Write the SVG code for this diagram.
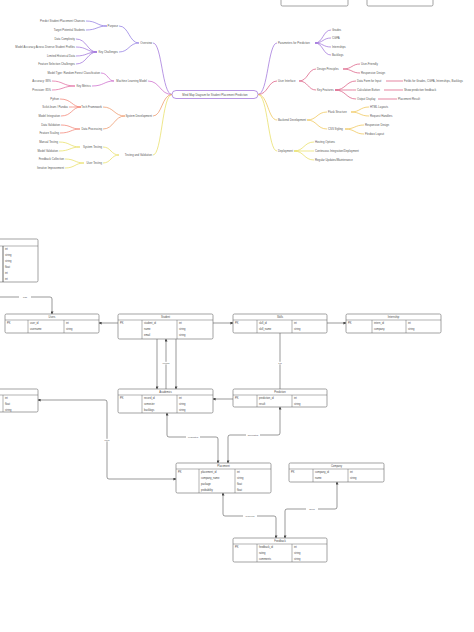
<svg xmlns="http://www.w3.org/2000/svg" width="474" height="632" viewBox="0 0 474 632">
<style>
.mm{font-family:"Liberation Sans",Arial,sans-serif;font-size:2.8px;fill:#555}
.e{text-anchor:end}
.c{fill:none;stroke-width:0.7}
.pu{stroke:#9a6ad8}.bl{stroke:#8a72e0}.mg{stroke:#c860c8}.pk{stroke:#e0609a}.or{stroke:#ec9060}.rd{stroke:#f07a6a}.ye{stroke:#e6dc5a}.yo{stroke:#eec24a}.re{stroke:#d8507a}
.bx{fill:#fff;stroke:#666;stroke-width:0.6}
.ln{stroke:#666;stroke-width:0.5}
.t{font-family:"Liberation Sans",Arial,sans-serif;font-size:2.6px;fill:#444}
.h{text-anchor:middle}
.cn{fill:none;stroke:#555;stroke-width:0.6}
.lb{font-family:"Liberation Sans",Arial,sans-serif;font-size:2.4px;fill:#555;text-anchor:middle}
.lbg{fill:#fff}
</style>
<defs>
<marker id="ar" markerUnits="userSpaceOnUse" markerWidth="3" markerHeight="3" refX="2.6" refY="1.5" orient="auto-start-reverse"><path d="M0,0 L3,1.5 L0,3 z" fill="#444"/></marker>
</defs>
<rect width="474" height="632" fill="#fff"/>

<!-- top partial boxes -->
<g id="top-box-1"><rect class="bx" x="281" y="-5" width="67" height="11" rx="1.5"/></g>
<g id="top-box-2"><rect class="bx" x="367" y="-5" width="66" height="11" rx="1.5"/></g>

<!-- MIND MAP connectors -->
<g id="mindmap-links">
<path class="c pu" d="M172,94.5 C162,94.5 162,43 153,43"/>
<path class="c mg" d="M172,94.5 C160,94.5 160,81 148,81"/>
<path class="c or" d="M172,94.5 C162,94.5 162,116 153,116"/>
<path class="c ye" d="M172,94.5 C162,94.5 162,155 153,155"/>
<path class="c bl" d="M139,43 C129,43 129,26 119,26"/>
<path class="c bl" d="M139,43 C129,43 129,52 119,52"/>
<path class="c bl" d="M107,26 C97,26 97,21 86,21"/>
<path class="c bl" d="M107,26 C97,26 97,30 86,30"/>
<path class="c pu" d="M97,52 C87,52 87,39 76,39"/>
<path class="c pu" d="M97,52 C87,52 87,47 76,47"/>
<path class="c pu" d="M97,52 C87,52 87,56 76,56"/>
<path class="c pu" d="M97,52 C87,52 87,64 76,64"/>
<path class="c mg" d="M114,81 C108,81 108,73 101,73"/>
<path class="c mg" d="M114,81 C104,81 104,86 92,86"/>
<path class="c pk" d="M75,86 C63,86 63,81 52,81"/>
<path class="c pk" d="M75,86 C63,86 63,90 52,90"/>
<path class="c or" d="M125,116 C114,116 114,107 103,107"/>
<path class="c or" d="M125,116 C114,116 114,129 103,129"/>
<path class="c rd" d="M81,107 C72,107 72,99 60,99"/>
<path class="c rd" d="M81,107 C75,107 75,107 69,107"/>
<path class="c rd" d="M81,107 C72,107 72,116 61,116"/>
<path class="c rd" d="M80,129 C71,129 71,125 61,125"/>
<path class="c rd" d="M80,129 C71,129 71,133 60,133"/>
<path class="c ye" d="M119,155 C111,155 111,147 103,147"/>
<path class="c ye" d="M119,155 C111,155 111,163 103,163"/>
<path class="c ye" d="M80,147 C70,147 70,142 59,142"/>
<path class="c ye" d="M80,147 C70,147 70,151 59,151"/>
<path class="c ye" d="M84,163 C75,163 75,159 65,159"/>
<path class="c ye" d="M84,163 C75,163 75,168 65,168"/>

<path class="c pu" d="M258,94.5 C268,94.5 268,43 277,43"/>
<path class="c re" d="M258,94.5 C268,94.5 268,81 277,81"/>
<path class="c yo" d="M258,94.5 C268,94.5 268,120 277,120"/>
<path class="c ye" d="M258,94.5 C268,94.5 268,151 277,151"/>
<path class="c pu" d="M315,43 C323,43 323,30 331,30"/>
<path class="c pu" d="M315,43 C323,43 323,38 331,38"/>
<path class="c pu" d="M315,43 C323,43 323,47 331,47"/>
<path class="c pu" d="M315,43 C323,43 323,55 331,55"/>
<path class="c re" d="M299,81 C308,81 308,69 316,69"/>
<path class="c re" d="M299,81 C308,81 308,90 316,90"/>
<path class="c re" d="M343,69 C352,69 352,64 360,64"/>
<path class="c re" d="M343,69 C352,69 352,73 360,73"/>
<path class="c re" d="M335,90 C346,90 346,81 356,81"/>
<path class="c re" d="M335,90 C346,90 346,90 356,90"/>
<path class="c re" d="M335,90 C346,90 346,99 356,99"/>
<path class="c re" d="M386,81 H403"/>
<path class="c re" d="M384,90 H403"/>
<path class="c re" d="M378,99 H397"/>
<path class="c yo" d="M307,120 C317,120 317,112 327,112"/>
<path class="c yo" d="M307,120 C317,120 317,129 327,129"/>
<path class="c yo" d="M351,112 C360,112 360,107 369,107"/>
<path class="c yo" d="M351,112 C360,112 360,116 369,116"/>
<path class="c yo" d="M345,129 C355,129 355,125 364,125"/>
<path class="c yo" d="M345,129 C355,129 355,134 364,134"/>
<path class="c ye" d="M294,151 C304,151 304,142 314,142"/>
<path class="c ye" d="M294,151 C304,151 304,151 314,151"/>
<path class="c ye" d="M294,151 C304,151 304,160 314,160"/>
</g>

<!-- MIND MAP nodes -->
<g id="mm-root"><rect x="172" y="90.5" width="86" height="8" rx="4" fill="#fff" stroke="#9a6ad8" stroke-width="0.7"/><text class="mm" x="215" y="95.5" text-anchor="middle">Mind Map Diagram for Student Placement Prediction</text></g>
<g id="mm-overview"><text class="mm e" x="152" y="44">Overview</text></g>
<g id="mm-purpose"><text class="mm e" x="118" y="27">Purpose</text></g>
<g id="mm-purpose-1"><text class="mm e" x="85" y="22">Predict Student Placement Chances</text></g>
<g id="mm-purpose-2"><text class="mm e" x="85" y="31">Target Potential Students</text></g>
<g id="mm-challenges"><text class="mm e" x="118" y="53">Key Challenges</text></g>
<g id="mm-ch-1"><text class="mm e" x="75" y="40">Data Complexity</text></g>
<g id="mm-ch-2"><text class="mm e" x="75" y="48">Model Accuracy Across Diverse Student Profiles</text></g>
<g id="mm-ch-3"><text class="mm e" x="75" y="57">Limited Historical Data</text></g>
<g id="mm-ch-4"><text class="mm e" x="75" y="65">Feature Selection Challenges</text></g>
<g id="mm-ml"><text class="mm e" x="147" y="82">Machine Learning Model</text></g>
<g id="mm-ml-1"><text class="mm e" x="100" y="74">Model Type: Random Forest Classification</text></g>
<g id="mm-ml-2"><text class="mm e" x="91" y="87">Key Metrics</text></g>
<g id="mm-ml-3"><text class="mm e" x="51" y="82">Accuracy: 88%</text></g>
<g id="mm-ml-4"><text class="mm e" x="51" y="91">Precision: 85%</text></g>
<g id="mm-sys"><text class="mm e" x="152" y="117">System Development</text></g>
<g id="mm-tech"><text class="mm e" x="102" y="108">Tech Framework</text></g>
<g id="mm-tech-1"><text class="mm e" x="59" y="100">Python</text></g>
<g id="mm-tech-2"><text class="mm e" x="68" y="108">Scikit-learn / Pandas</text></g>
<g id="mm-tech-3"><text class="mm e" x="60" y="117">Model Integration</text></g>
<g id="mm-data"><text class="mm e" x="102" y="130">Data Processing</text></g>
<g id="mm-data-1"><text class="mm e" x="60" y="126">Data Validation</text></g>
<g id="mm-data-2"><text class="mm e" x="59" y="134">Feature Scaling</text></g>
<g id="mm-test"><text class="mm e" x="152" y="156">Testing and Validation</text></g>
<g id="mm-systest"><text class="mm e" x="102" y="148">System Testing</text></g>
<g id="mm-systest-1"><text class="mm e" x="58" y="143">Manual Testing</text></g>
<g id="mm-systest-2"><text class="mm e" x="58" y="152">Model Validation</text></g>
<g id="mm-usertest"><text class="mm e" x="102" y="164">User Testing</text></g>
<g id="mm-usertest-1"><text class="mm e" x="64" y="160">Feedback Collection</text></g>
<g id="mm-usertest-2"><text class="mm e" x="64" y="169">Iterative Improvement</text></g>

<g id="mm-params"><text class="mm" x="278" y="44">Parameters for Prediction</text></g>
<g id="mm-p1"><text class="mm" x="332" y="31">Grades</text></g>
<g id="mm-p2"><text class="mm" x="332" y="39">CGPA</text></g>
<g id="mm-p3"><text class="mm" x="332" y="48">Internships</text></g>
<g id="mm-p4"><text class="mm" x="332" y="56">Backlogs</text></g>
<g id="mm-ui"><text class="mm" x="278" y="82">User Interface</text></g>
<g id="mm-design"><text class="mm" x="317" y="70">Design Principles</text></g>
<g id="mm-d1"><text class="mm" x="361" y="65">User-Friendly</text></g>
<g id="mm-d2"><text class="mm" x="361" y="74">Responsive Design</text></g>
<g id="mm-features"><text class="mm" x="317" y="91">Key Features</text></g>
<g id="mm-f1"><text class="mm" x="357" y="82">Data Form for Input</text></g>
<g id="mm-f2"><text class="mm" x="357" y="91">Calculation Button</text></g>
<g id="mm-f3"><text class="mm" x="357" y="100">Output Display</text></g>
<g id="mm-f1a"><text class="mm" x="404" y="82">Fields for Grades, CGPA, Internships, Backlogs</text></g>
<g id="mm-f2a"><text class="mm" x="404" y="91">Show prediction feedback</text></g>
<g id="mm-f3a"><text class="mm" x="398" y="100">Placement Result</text></g>
<g id="mm-backend"><text class="mm" x="278" y="121">Backend Development</text></g>
<g id="mm-flask"><text class="mm" x="328" y="113">Flask Structure</text></g>
<g id="mm-fl1"><text class="mm" x="370" y="108">HTML Layouts</text></g>
<g id="mm-fl2"><text class="mm" x="370" y="117">Request Handlers</text></g>
<g id="mm-css"><text class="mm" x="328" y="130">CSS Styling</text></g>
<g id="mm-css1"><text class="mm" x="365" y="126">Responsive Design</text></g>
<g id="mm-css2"><text class="mm" x="365" y="135">Flexbox Layout</text></g>
<g id="mm-deploy"><text class="mm" x="278" y="152">Deployment</text></g>
<g id="mm-dp1"><text class="mm" x="315" y="143">Hosting Options</text></g>
<g id="mm-dp2"><text class="mm" x="315" y="152">Continuous Integration/Deployment</text></g>
<g id="mm-dp3"><text class="mm" x="315" y="161">Regular Updates/Maintenance</text></g>

<!-- ER connectors -->
<g id="er-links">
<path class="cn" d="M0,297 H50 Q52,297 52,299 V314" marker-end="url(#ar)"/>
<path class="cn" d="M118,323 H99" marker-end="url(#ar)"/>
<path class="cn" d="M213,323 H233" marker-end="url(#ar)"/>
<path class="cn" d="M327,323 H346" marker-end="url(#ar)"/>
<path class="cn" d="M157,339 V389" marker-end="url(#ar)"/>
<path class="cn" d="M176,339 V389" marker-end="url(#ar)"/>
<path class="cn" d="M166,389 V339" marker-end="url(#ar)"/>
<path class="cn" d="M233,399 H213" marker-end="url(#ar)"/>
<path class="cn" d="M258,399 H278 Q280,399 280,397 V326 Q280,324 282,324 H292"/>
<path class="cn" d="M167,413 V435 Q167,437 169,437 H216 Q218,437 218,439 V463" marker-start="url(#ar)" marker-end="url(#ar)"/>
<path class="cn" d="M280,407 V433 Q280,435 278,435 H230 Q228,435 228,437 V463" marker-start="url(#ar)" marker-end="url(#ar)"/>
<path class="cn" d="M176,479 H109 Q107,479 107,477 V402 Q107,400 105,400 H38" marker-start="url(#ar)" marker-end="url(#ar)"/>
<path class="cn" d="M223,493 V514 Q223,516 225,516 H274 Q276,516 276,518 V538" marker-start="url(#ar)" marker-end="url(#ar)"/>
<path class="cn" d="M337,482 V507 Q337,509 335,509 H287 Q285,509 285,511 V538" marker-start="url(#ar)" marker-end="url(#ar)"/>
<rect class="lbg" x="19" y="295.8" width="12" height="2.6"/><text class="lb" x="25" y="297.9">has</text>
<rect class="lbg" x="160" y="361.8" width="12" height="2.6"/><text class="lb" x="166" y="363.9">enrolls</text>
<rect class="lbg" x="274" y="361.8" width="12" height="2.6"/><text class="lb" x="280" y="363.9">1:N</text>
<rect class="lbg" x="186" y="435.8" width="14" height="2.6"/><text class="lb" x="193" y="437.9">evaluates</text>
<rect class="lbg" x="246" y="433.8" width="14" height="2.6"/><text class="lb" x="253" y="435.9">generates</text>
<rect class="lbg" x="102" y="438.8" width="10" height="2.6"/><text class="lb" x="107" y="440.9">from</text>
<rect class="lbg" x="243" y="514.8" width="14" height="2.6"/><text class="lb" x="250" y="516.9">receives</text>
<rect class="lbg" x="306" y="507.8" width="12" height="2.6"/><text class="lb" x="312" y="509.9">gives</text>
</g>

<!-- ER entities -->
<g id="er-top-left">
<rect class="bx" x="-57" y="239" width="95" height="43" rx="1.5"/>
<line class="ln" x1="-57" y1="246" x2="38" y2="246"/>
<line x1="3" y1="246" x2="3" y2="282" stroke="#444" stroke-width="0.8"/>
<text class="t" x="5" y="250">int</text><text class="t" x="5" y="256">string</text><text class="t" x="5" y="262">string</text><text class="t" x="5" y="268">float</text><text class="t" x="5" y="274">int</text><text class="t" x="5" y="280">int</text>
</g>
<g id="er-users">
<rect class="bx" x="5" y="314" width="94" height="19" rx="1.5"/>
<line class="ln" x1="5" y1="320" x2="99" y2="320"/><line class="ln" x1="28" y1="320" x2="28" y2="333"/><line class="ln" x1="64" y1="320" x2="64" y2="333"/>
<text class="t h" x="52" y="318.2">Users</text>
<text class="t" x="7" y="324">PK</text><text class="t" x="30" y="324">user_id</text><text class="t" x="66" y="324">int</text>
<text class="t" x="30" y="330">username</text><text class="t" x="66" y="330">string</text>
</g>
<g id="er-student">
<rect class="bx" x="118" y="314" width="95" height="25" rx="1.5"/>
<line class="ln" x1="118" y1="320" x2="213" y2="320"/><line class="ln" x1="142" y1="320" x2="142" y2="339"/><line class="ln" x1="177" y1="320" x2="177" y2="339"/>
<text class="t h" x="165.5" y="318.2">Student</text>
<text class="t" x="120" y="324">PK</text><text class="t" x="144" y="324">student_id</text><text class="t" x="179" y="324">int</text>
<text class="t" x="144" y="330">name</text><text class="t" x="179" y="330">string</text>
<text class="t" x="144" y="336">email</text><text class="t" x="179" y="336">string</text>
</g>
<g id="er-skills">
<rect class="bx" x="233" y="314" width="94" height="19" rx="1.5"/>
<line class="ln" x1="233" y1="320" x2="327" y2="320"/><line class="ln" x1="257" y1="320" x2="257" y2="333"/><line class="ln" x1="292" y1="320" x2="292" y2="333"/>
<text class="t h" x="280" y="318.2">Skills</text>
<text class="t" x="235" y="324">PK</text><text class="t" x="259" y="324">skill_id</text><text class="t" x="294" y="324">int</text>
<text class="t" x="259" y="330">skill_name</text><text class="t" x="294" y="330">string</text>
</g>
<g id="er-internship">
<rect class="bx" x="346" y="314" width="95" height="19" rx="1.5"/>
<line class="ln" x1="346" y1="320" x2="441" y2="320"/><line class="ln" x1="372" y1="320" x2="372" y2="333"/><line class="ln" x1="406" y1="320" x2="406" y2="333"/>
<text class="t h" x="393.5" y="318.2">Internship</text>
<text class="t" x="348" y="324">PK</text><text class="t" x="374" y="324">intern_id</text><text class="t" x="408" y="324">int</text>
<text class="t" x="374" y="330">company</text><text class="t" x="408" y="330">string</text>
</g>
<g id="er-academics">
<rect class="bx" x="118" y="389" width="95" height="24" rx="1.5"/>
<line class="ln" x1="118" y1="395" x2="213" y2="395"/><line class="ln" x1="142" y1="395" x2="142" y2="413"/><line class="ln" x1="177" y1="395" x2="177" y2="413"/>
<text class="t h" x="165.5" y="393.2">Academics</text>
<text class="t" x="120" y="399">PK</text><text class="t" x="144" y="399">record_id</text><text class="t" x="179" y="399">int</text>
<text class="t" x="144" y="405">semester</text><text class="t" x="179" y="405">string</text>
<text class="t" x="144" y="411">backlogs</text><text class="t" x="179" y="411">string</text>
</g>
<g id="er-prediction">
<rect class="bx" x="233" y="389" width="94" height="18" rx="1.5"/>
<line class="ln" x1="233" y1="395" x2="327" y2="395"/><line class="ln" x1="257" y1="395" x2="257" y2="407"/><line class="ln" x1="292" y1="395" x2="292" y2="407"/>
<text class="t h" x="280" y="393.2">Prediction</text>
<text class="t" x="235" y="399">PK</text><text class="t" x="259" y="399">prediction_id</text><text class="t" x="294" y="399">int</text>
<text class="t" x="259" y="405">result</text><text class="t" x="294" y="405">string</text>
</g>
<g id="er-bottom-left">
<rect class="bx" x="-57" y="389" width="95" height="23" rx="1.5"/>
<line class="ln" x1="-57" y1="395" x2="38" y2="395"/>
<line class="ln" x1="3" y1="395" x2="3" y2="412"/>
<text class="t" x="5" y="399">int</text><text class="t" x="5" y="405">float</text><text class="t" x="5" y="411">string</text>
</g>
<g id="er-placement">
<rect class="bx" x="176" y="463" width="95" height="30" rx="1.5"/>
<line class="ln" x1="176" y1="469" x2="271" y2="469"/><line class="ln" x1="199" y1="469" x2="199" y2="493"/><line class="ln" x1="235" y1="469" x2="235" y2="493"/>
<text class="t h" x="223.5" y="467.2">Placement</text>
<text class="t" x="178" y="473">PK</text><text class="t" x="201" y="473">placement_id</text><text class="t" x="237" y="473">int</text>
<text class="t" x="201" y="479">company_name</text><text class="t" x="237" y="479">string</text>
<text class="t" x="201" y="485">package</text><text class="t" x="237" y="485">float</text>
<text class="t" x="201" y="491">probability</text><text class="t" x="237" y="491">float</text>
</g>
<g id="er-company">
<rect class="bx" x="289" y="463" width="95" height="19" rx="1.5"/>
<line class="ln" x1="289" y1="469" x2="384" y2="469"/><line class="ln" x1="313" y1="469" x2="313" y2="482"/><line class="ln" x1="348" y1="469" x2="348" y2="482"/>
<text class="t h" x="336.5" y="467.2">Company</text>
<text class="t" x="291" y="473">PK</text><text class="t" x="315" y="473">company_id</text><text class="t" x="350" y="473">int</text>
<text class="t" x="315" y="479">name</text><text class="t" x="350" y="479">string</text>
</g>
<g id="er-feedback">
<rect class="bx" x="233" y="538" width="94" height="24" rx="1.5"/>
<line class="ln" x1="233" y1="544" x2="327" y2="544"/><line class="ln" x1="257" y1="544" x2="257" y2="562"/><line class="ln" x1="292" y1="544" x2="292" y2="562"/>
<text class="t h" x="280" y="542.2">Feedback</text>
<text class="t" x="235" y="548">PK</text><text class="t" x="259" y="548">feedback_id</text><text class="t" x="294" y="548">int</text>
<text class="t" x="259" y="554">rating</text><text class="t" x="294" y="554">string</text>
<text class="t" x="259" y="560">comments</text><text class="t" x="294" y="560">string</text>
</g>
</svg>
